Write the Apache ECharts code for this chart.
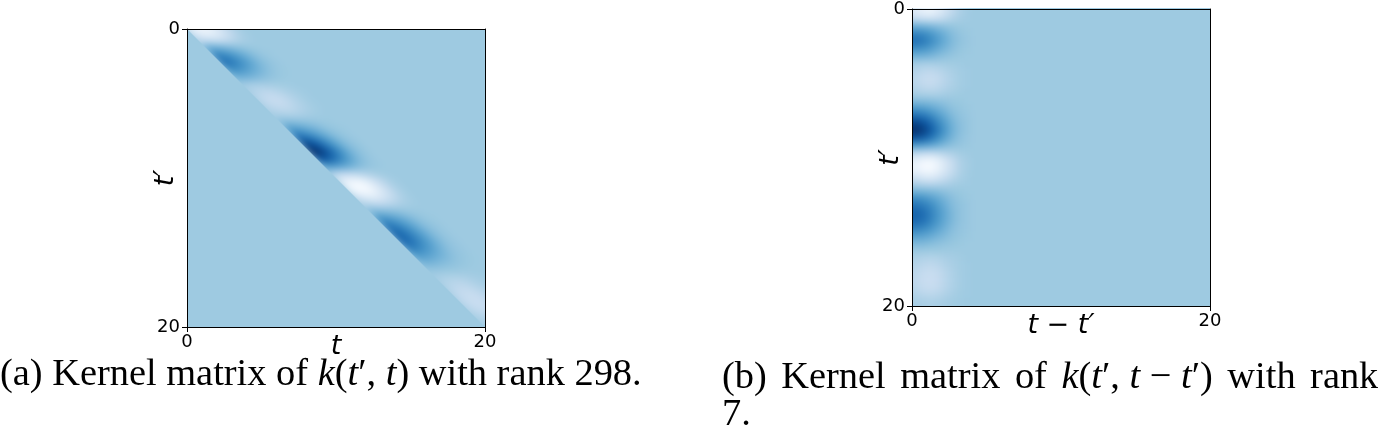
<!DOCTYPE html>
<html>
<head>
<meta charset="utf-8">
<script src="https://cdn.jsdelivr.net/npm/echarts@6/dist/echarts.min.js"></script>
<style>
html, body { margin: 0; padding: 0; background: #fff; }
.layer { position: absolute; left: 0; top: 0; width: 1378px; height: 431px; }
#heat { filter: blur(3.5px); }
</style>
</head>
<body>
<div id="heat" class="layer"></div>
<div id="main" class="layer"></div>
<script>
// kernel k(t', t - t'): one row per t' step, one column per lag step
var tPrime = [0, 0.5, 1, 1.5, 2, 2.5, 3, 3.5, 4, 4.5, 5, 5.5, 6, 6.5, 7, 7.5, 8, 8.5, 9, 9.5,
    10, 10.5, 11, 11.5, 12, 12.5, 13, 13.5, 14, 14.5, 15, 15.5, 16, 16.5, 17, 17.5, 18, 18.5, 19, 19.5]
var lag = [0, 0.5, 1, 1.5, 2, 2.5, 3, 3.5, 4]
var kernel = [
    [-0.40, -0.48, -0.50, -0.42, -0.30, -0.17, -0.07, -0.02, 0],
    [-0.20, -0.25, -0.27, -0.23, -0.16, -0.09, -0.04, -0.01, 0],
    [0.20, 0.18, 0.14, 0.10, 0.06, 0.03, 0.01, 0, 0],
    [0.50, 0.46, 0.38, 0.28, 0.18, 0.09, 0.04, 0.01, 0],
    [0.60, 0.55, 0.45, 0.33, 0.21, 0.11, 0.05, 0.02, 0],
    [0.42, 0.39, 0.32, 0.23, 0.15, 0.08, 0.03, 0.01, 0],
    [0.18, 0.17, 0.14, 0.10, 0.06, 0.03, 0.01, 0, 0],
    [-0.04, -0.05, -0.05, -0.04, -0.03, -0.02, -0.01, 0, 0],
    [-0.11, -0.15, -0.17, -0.14, -0.10, -0.06, -0.03, -0.01, 0],
    [-0.15, -0.20, -0.22, -0.19, -0.13, -0.08, -0.03, -0.01, 0],
    [-0.13, -0.17, -0.19, -0.16, -0.11, -0.07, -0.03, -0.01, 0],
    [-0.06, -0.08, -0.09, -0.08, -0.05, -0.03, -0.01, 0, 0],
    [0.10, 0.09, 0.08, 0.06, 0.04, 0.02, 0.01, 0, 0],
    [0.35, 0.32, 0.26, 0.19, 0.12, 0.06, 0.03, 0.01, 0],
    [0.62, 0.57, 0.47, 0.34, 0.22, 0.11, 0.05, 0.02, 0],
    [0.88, 0.81, 0.66, 0.48, 0.31, 0.16, 0.07, 0.03, 0],
    [1.00, 0.92, 0.75, 0.55, 0.35, 0.18, 0.08, 0.03, 0],
    [0.78, 0.72, 0.59, 0.43, 0.27, 0.14, 0.06, 0.02, 0],
    [0.32, 0.29, 0.24, 0.18, 0.11, 0.06, 0.03, 0.01, 0],
    [-0.15, -0.18, -0.19, -0.16, -0.11, -0.07, -0.03, -0.01, 0],
    [-0.45, -0.53, -0.55, -0.47, -0.33, -0.19, -0.08, -0.03, 0],
    [-0.52, -0.59, -0.60, -0.51, -0.36, -0.21, -0.09, -0.03, 0],
    [-0.35, -0.42, -0.45, -0.38, -0.27, -0.16, -0.07, -0.02, 0],
    [-0.12, -0.16, -0.18, -0.15, -0.11, -0.06, -0.03, -0.01, 0],
    [0.12, 0.11, 0.09, 0.07, 0.04, 0.02, 0.01, 0, 0],
    [0.40, 0.37, 0.30, 0.22, 0.14, 0.07, 0.03, 0.01, 0],
    [0.58, 0.53, 0.44, 0.32, 0.20, 0.10, 0.05, 0.02, 0],
    [0.68, 0.63, 0.51, 0.37, 0.24, 0.12, 0.05, 0.02, 0],
    [0.66, 0.61, 0.50, 0.36, 0.23, 0.12, 0.05, 0.02, 0],
    [0.52, 0.48, 0.39, 0.29, 0.18, 0.09, 0.04, 0.02, 0],
    [0.33, 0.30, 0.25, 0.18, 0.12, 0.06, 0.03, 0.01, 0],
    [0.15, 0.14, 0.11, 0.08, 0.05, 0.03, 0.01, 0, 0],
    [0.02, 0.02, 0.01, 0.01, 0, 0, 0, 0, 0],
    [-0.07, -0.09, -0.10, -0.09, -0.06, -0.04, -0.02, 0, 0],
    [-0.12, -0.15, -0.17, -0.14, -0.10, -0.06, -0.03, -0.01, 0],
    [-0.15, -0.20, -0.22, -0.19, -0.13, -0.08, -0.03, -0.01, 0],
    [-0.17, -0.22, -0.24, -0.20, -0.14, -0.08, -0.04, -0.01, 0],
    [-0.15, -0.20, -0.22, -0.19, -0.13, -0.08, -0.03, -0.01, 0],
    [-0.10, -0.14, -0.15, -0.13, -0.09, -0.05, -0.02, -0.01, 0],
    [-0.05, -0.06, -0.07, -0.06, -0.04, -0.02, -0.01, 0, 0]
]
var axisRange = [0, 20]
var colorRange = [-0.6, 1.0]
// matplotlib "Blues"; value 0 lands on BLUES[3]
var BLUES = ['#f7fbff', '#deebf7', '#c6dbef', '#9ecae1', '#6baed6', '#4292c6', '#2171b5', '#08519c', '#08306b']
var BASE = BLUES[3]

var GRIDS = [
    { left: 187, top: 29, width: 298, height: 298 },
    { left: 912, top: 8, width: 298, height: 298 }
]

// heat layer is blurred (imshow-like smoothing) then clipped to the two plot boxes
var clip = GRIDS.map(function (g) {
    return 'M' + g.left + ' ' + g.top + ' h' + g.width + ' v' + g.height + ' h-' + g.width + ' Z'
}).join(' ')
document.getElementById('heat').style.clipPath = "path('" + clip + "')"

var CELL = lag[1] - lag[0]
var LAST = tPrime[tPrime.length - 1]

var cells = []
tPrime.forEach(function (tp, i) {
    lag.forEach(function (d, j) {
        cells.push([tp, d, kernel[i][j]])
    })
})

// edge cells are stretched past the frame so the blur does not wash them out
function rowSpan (tp) {
    return [tp === 0 ? tp - CELL : tp, tp === LAST ? tp + 2 * CELL : tp + CELL]
}

// panel (a): cell of k(t', t) is a sheared copy of the (t', t - t') cell
function renderSheared (params, api) {
    var tp = api.value(0)
    var d = api.value(1)
    var r = rowSpan(tp)
    var d0 = d === 0 ? d - 0.05 : d
    var color = api.visual('color')
    return {
        type: 'polygon',
        shape: {
            points: [
                api.coord([r[0] + d0, r[0]]),
                api.coord([r[0] + d + CELL, r[0]]),
                api.coord([r[1] + d + CELL, r[1]]),
                api.coord([r[1] + d0, r[1]])
            ]
        },
        style: { fill: color, stroke: color, lineWidth: 0.6 }
    }
}

function renderRect (params, api) {
    var tp = api.value(0)
    var d = api.value(1)
    var r = rowSpan(tp)
    var a = api.coord([d === 0 ? d - 2 * CELL : d, r[0]])
    var b = api.coord([d + CELL, r[1]])
    var color = api.visual('color')
    return {
        type: 'rect',
        shape: {
            x: Math.min(a[0], b[0]),
            y: Math.min(a[1], b[1]),
            width: Math.abs(b[0] - a[0]),
            height: Math.abs(b[1] - a[1])
        },
        style: { fill: color, stroke: color, lineWidth: 0.6 }
    }
}

// region t < t' of panel (a) holds no kernel: redraw it sharp over the blurred layer
function renderLowerTriangle (params, api) {
    return {
        type: 'polygon',
        shape: {
            points: [
                api.coord([axisRange[0], axisRange[0]]),
                api.coord([axisRange[1], axisRange[1]]),
                api.coord([axisRange[0], axisRange[1]])
            ]
        },
        style: { fill: BASE }
    }
}

function hiddenAxis (grid, isY) {
    var ax = { gridIndex: grid, type: 'value', show: false, min: axisRange[0], max: axisRange[1] }
    if (isY) ax.inverse = true
    return ax
}

var heat = echarts.init(document.getElementById('heat'))
heat.setOption({
    animation: false,
    backgroundColor: BASE,
    grid: GRIDS,
    xAxis: [hiddenAxis(0), hiddenAxis(1)],
    yAxis: [hiddenAxis(0, true), hiddenAxis(1, true)],
    visualMap: {
        type: 'continuous', show: false, dimension: 2, seriesIndex: [0, 1],
        min: colorRange[0], max: colorRange[1],
        inRange: { color: BLUES }
    },
    series: [
        {
            type: 'custom', xAxisIndex: 0, yAxisIndex: 0, clip: false,
            dimensions: ['tPrime', 'lag', 'k'], encode: { x: 'lag', y: 'tPrime' },
            renderItem: renderSheared, data: cells
        },
        {
            type: 'custom', xAxisIndex: 1, yAxisIndex: 1, clip: false,
            dimensions: ['tPrime', 'lag', 'k'], encode: { x: 'lag', y: 'tPrime' },
            renderItem: renderRect, data: cells
        }
    ]
})

var tickFont = { fontFamily: 'DejaVu Sans', fontSize: 18, color: '#000' }
var nameFont = { fontFamily: 'DejaVu Sans', fontStyle: 'italic', fontSize: 27, color: '#000' }

function mainX (grid, name) {
    return {
        gridIndex: grid, type: 'value', position: 'bottom', z: 5,
        min: axisRange[0], max: axisRange[1], interval: axisRange[1] - axisRange[0],
        name: name, nameLocation: 'middle', nameGap: 6, nameMoveOverlap: false, nameTextStyle: nameFont,
        axisLine: { onZero: false, lineStyle: { color: '#000', width: 1 } },
        axisTick: { show: true, length: 5, lineStyle: { color: '#000' } },
        axisLabel: Object.assign({ margin: 6 }, tickFont),
        splitLine: { show: false }
    }
}
function mainY (grid, name) {
    return {
        gridIndex: grid, type: 'value', position: 'left', inverse: true, z: 5,
        min: axisRange[0], max: axisRange[1], interval: axisRange[1] - axisRange[0],
        name: name, nameLocation: 'middle', nameRotate: 90, nameGap: 8, nameMoveOverlap: false,
        nameTextStyle: nameFont,
        axisLine: { onZero: false, lineStyle: { color: '#000', width: 1 } },
        axisTick: { show: true, length: 5, lineStyle: { color: '#000' } },
        axisLabel: Object.assign({ margin: 7 }, tickFont),
        splitLine: { show: false }
    }
}
function frame (grid, pos, isY) {
    var ax = {
        gridIndex: grid, type: 'value', position: pos, z: 5,
        min: axisRange[0], max: axisRange[1],
        axisLine: { show: true, onZero: false, lineStyle: { color: '#000', width: 1 } },
        axisTick: { show: false }, axisLabel: { show: false }, splitLine: { show: false }
    }
    if (isY) ax.inverse = true
    return ax
}

var serif = 'Liberation Serif'
var capRich = {
    i: { fontFamily: serif, fontStyle: 'italic', fontSize: 38.4, lineHeight: 38 },
    s: { fontFamily: serif, fontSize: 58, lineHeight: 38 }
}
function caption (x, y, text) {
    return {
        type: 'text', left: x, top: y,
        style: {
            text: text, fontFamily: serif, fontSize: 38.4, lineHeight: 38,
            fill: '#000', rich: capRich
        }
    }
}

var chart = echarts.init(document.getElementById('main'))
chart.setOption({
    animation: false,
    grid: GRIDS,
    xAxis: [mainX(0, 't'), frame(0, 'top'), mainX(1, 't − t′'), frame(1, 'top')],
    yAxis: [mainY(0, 't′'), frame(0, 'right', true), mainY(1, 't′'), frame(1, 'right', true)],
    series: [
        {
            type: 'custom', xAxisIndex: 0, yAxisIndex: 0, clip: true,
            renderItem: renderLowerTriangle, data: [[axisRange[0], axisRange[1]]]
        }
    ],
    graphic: [
        caption(0, 356, '(a) Kernel matrix of {i|k}({i|t}′, {i|t}) with rank 298.'),
        caption(722, 349, '(b){s| }Kernel{s| }matrix{s| }of{s| }{i|k}({i|t}′, {i|t} − {i|t}′){s| }with{s| }rank'),
        caption(722, 396, '7.')
    ]
})
window.addEventListener('resize', function () { chart.resize(); heat.resize() })
</script>
</body>
</html>
